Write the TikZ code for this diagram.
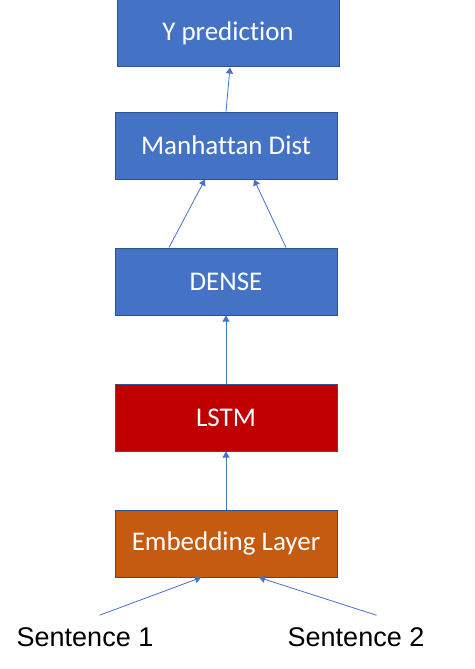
\documentclass[tikz,border=0pt]{standalone}
\usepackage{fontspec}
\setmainfont[Ligatures=NoCommon]{Carlito}
\newfontfamily\arialfont{Liberation Sans}
\usepackage{xcolor}
\usepackage{tikz}
\usetikzlibrary{positioning, arrows.meta}
\definecolor{boxblue}{HTML}{4472C4}
\definecolor{boxedge}{HTML}{2F528F}
\definecolor{boxred}{HTML}{C00000}
\definecolor{boxorange}{HTML}{C55A11}
\tikzstyle{block} = [rectangle, minimum width=222pt, minimum height=67pt, inner sep=0pt, text centered, draw=boxedge, line width=1pt, fill=boxblue, text=white, font=\fontsize{27}{32}\selectfont]
\tikzstyle{word} = [inner sep=2pt, font=\arialfont\fontsize{27}{32}\selectfont]
\tikzstyle{arrow} = [draw=boxblue, line width=0.8pt, -{Triangle[width=7pt,length=6pt]}]

\begin{document}
\begin{tikzpicture}
   \useasboundingbox (0pt,0pt) rectangle (474pt,-669pt);
   \node (y) [block] at (228pt,-33.5pt) {Y prediction};
   \node (man) [block] at (226pt,-145.5pt) {Manhattan Dist};
   \node (dense) [block, below=68pt of man] {DENSE};
   \node (lstm) [block, fill=boxred, below=68pt of dense] {LSTM};
   \node (emb) [block, fill=boxorange, below=58pt of lstm] {Embedding Layer};
   \node (s1) [word] at (85pt,-637pt) {Sentence 1};
   \node (s2) [word] at (356pt,-637pt) {Sentence 2};
   \draw [arrow] ([xshift=-56pt,yshift=10pt]s1.north east) -- ([xshift=-25pt]emb.south);
   \draw [arrow] ([xshift=-50pt,yshift=10pt]s2.north east) -- ([xshift=33pt]emb.south);
   \draw [arrow] (emb) -- (lstm);
   \draw [arrow] (lstm) -- (dense);
   \draw [arrow] ([xshift=-57pt]dense.north) -- ([xshift=-21pt]man.south);
   \draw [arrow] ([xshift=60pt]dense.north) -- ([xshift=28pt]man.south);
   \draw [arrow] (man.north) -- ([xshift=2pt]y.south);
\end{tikzpicture}
\end{document}
